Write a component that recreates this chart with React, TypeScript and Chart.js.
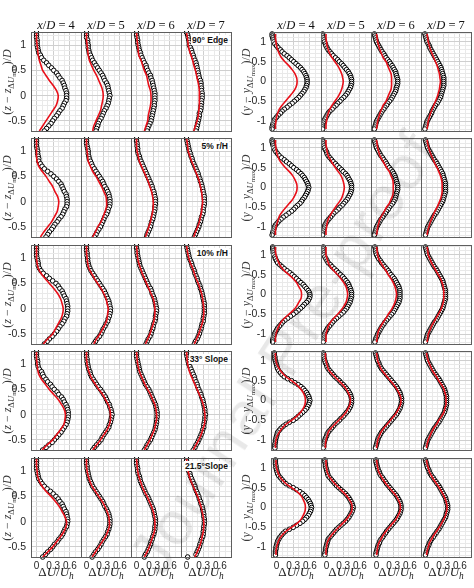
import React, { useEffect, useRef } from "react";
import { Chart, registerables } from "chart.js";
Chart.register(...registerables);

// ---------- axes / labels ----------
const xDValues = ["4", "5", "6", "7"];
const caseLabels = ["90° Edge", "5% r/H", "10% r/H", "33° Slope", "21.5°Slope"];

const X_MIN = -0.1, X_MAX = 0.8;
const xGrid = [0, 0.1, 0.2, 0.3, 0.4, 0.5, 0.6, 0.7];
const xTickVals = [0, 0.3, 0.6];
const xTickText = ["0", "0.3", "0.6"];

const Z_MIN = -0.7, Z_MAX = 1.26;
const zGrid = [-0.6, -0.5, -0.4, -0.3, -0.2, -0.1, 0, 0.1, 0.2, 0.3, 0.4, 0.5, 0.6, 0.7, 0.8, 0.9, 1, 1.1, 1.2];
const zTickVals = [-0.5, 0, 0.5, 1];
const zTickText = ["-0.5", "0", "0.5", "1"];

const Y_MIN = -1.25, Y_MAX = 1.25;
const yGrid = [-1.2, -1.1, -1, -0.9, -0.8, -0.7, -0.6, -0.5, -0.4, -0.3, -0.2, -0.1, 0, 0.1, 0.2, 0.3, 0.4, 0.5, 0.6, 0.7, 0.8, 0.9, 1, 1.1, 1.2];
const yTickVals = [-1, -0.5, 0, 0.5, 1];
const yTickText = ["-1", "-0.5", "0", "0.5", "1"];

// ---------- profile positions ----------
const zMeasPos = [1.25, 1.2, 1.15, 1.1, 1.05, 1, 0.95, 0.9, 0.85, 0.8, 0.75, 0.7, 0.65, 0.6, 0.55, 0.5, 0.45, 0.4, 0.35, 0.3, 0.25, 0.2, 0.15, 0.1, 0.05, 0, -0.05, -0.1, -0.15, -0.2, -0.25, -0.3, -0.35, -0.4, -0.45, -0.5, -0.55, -0.6, -0.65, -0.7];
const zModelPos = [1.25, 1.1, 1, 0.9, 0.8, 0.7, 0.6, 0.5, 0.4, 0.3, 0.2, 0.1, 0, -0.1, -0.2, -0.3, -0.4, -0.5, -0.6, -0.7];
const yMeasPos = [1.2, 1.15, 1.1, 1.05, 1, 0.95, 0.9, 0.85, 0.8, 0.75, 0.7, 0.65, 0.6, 0.55, 0.5, 0.45, 0.4, 0.35, 0.3, 0.25, 0.2, 0.15, 0.1, 0.05, 0, -0.05, -0.1, -0.15, -0.2, -0.25, -0.3, -0.35, -0.4, -0.45, -0.5, -0.55, -0.6, -0.65, -0.7, -0.75, -0.8, -0.85, -0.9, -0.95, -1, -1.05, -1.1, -1.15, -1.2];
const yModelPos = [1.2, 1.1, 1, 0.9, 0.8, 0.7, 0.6, 0.5, 0.4, 0.3, 0.2, 0.1, 0, -0.1, -0.2, -0.3, -0.4, -0.5, -0.6, -0.7, -0.8, -0.9, -1, -1.1, -1.2];

// ---------- vertical (z) profiles: one row per x/D = 4,5,6,7 ----------
const zEdgeExp = [
  [0, 0, 0, 0.01, 0.01, 0.01, 0.02, 0.03, 0.04, 0.07, 0.09, 0.13, 0.18, 0.22, 0.27, 0.31, 0.36, 0.39, 0.42, 0.46, 0.48, 0.50, 0.51, 0.53, 0.54, 0.54, 0.54, 0.53, 0.50, 0.48, 0.46, 0.42, 0.39, 0.36, 0.32, 0.29, 0.26, 0.22, 0.18, 0.14],
  [0, 0, 0, 0.02, 0.02, 0.03, 0.03, 0.04, 0.05, 0.07, 0.09, 0.11, 0.14, 0.17, 0.20, 0.23, 0.26, 0.29, 0.31, 0.33, 0.36, 0.38, 0.39, 0.40, 0.41, 0.42, 0.41, 0.40, 0.39, 0.37, 0.35, 0.32, 0.30, 0.28, 0.26, 0.23, 0.21, 0.20, 0.18, 0.17],
  [0, 0, 0.01, 0.02, 0.02, 0.03, 0.04, 0.05, 0.07, 0.08, 0.10, 0.12, 0.14, 0.17, 0.18, 0.20, 0.22, 0.25, 0.26, 0.28, 0.29, 0.30, 0.31, 0.32, 0.33, 0.33, 0.33, 0.33, 0.32, 0.32, 0.31, 0.30, 0.29, 0.28, 0.27, 0.26, 0.24, 0.22, 0.20, 0.19],
  [0, 0.02, 0.03, 0.04, 0.05, 0.05, 0.07, 0.09, 0.10, 0.12, 0.13, 0.15, 0.17, 0.18, 0.19, 0.20, 0.21, 0.22, 0.23, 0.25, 0.26, 0.26, 0.27, 0.27, 0.28, 0.28, 0.28, 0.27, 0.27, 0.26, 0.26, 0.25, 0.23, 0.23, 0.22, 0.21, 0.20, 0.19, 0.18, 0.17],
];
const zEdgeLes = [
  [0, 0, 0.01, 0.02, 0.03, 0.05, 0.08, 0.11, 0.17, 0.23, 0.30, 0.36, 0.39, 0.38, 0.35, 0.29, 0.23, 0.17, 0.11, 0.05],
  [0, 0, 0.01, 0.02, 0.03, 0.05, 0.09, 0.13, 0.18, 0.22, 0.26, 0.29, 0.30, 0.29, 0.27, 0.25, 0.21, 0.17, 0.13, 0.11],
  [0, 0.01, 0.02, 0.03, 0.04, 0.08, 0.11, 0.14, 0.18, 0.20, 0.22, 0.25, 0.26, 0.26, 0.25, 0.23, 0.21, 0.20, 0.17, 0.14],
  [0, 0.02, 0.03, 0.05, 0.08, 0.11, 0.13, 0.16, 0.18, 0.20, 0.22, 0.23, 0.23, 0.23, 0.23, 0.22, 0.21, 0.19, 0.16, 0.13],
];
const zR5Exp = [
  [0, 0, 0, 0, 0.01, 0.02, 0.02, 0.03, 0.04, 0.04, 0.07, 0.10, 0.14, 0.20, 0.26, 0.31, 0.36, 0.40, 0.44, 0.46, 0.48, 0.50, 0.53, 0.54, 0.55, 0.55, 0.55, 0.54, 0.51, 0.49, 0.47, 0.44, 0.40, 0.37, 0.33, 0.30, 0.27, 0.23, 0.20, 0.17],
  [0, 0, 0, 0.01, 0.02, 0.03, 0.03, 0.04, 0.05, 0.07, 0.09, 0.11, 0.14, 0.17, 0.20, 0.23, 0.26, 0.29, 0.31, 0.33, 0.36, 0.38, 0.40, 0.41, 0.42, 0.42, 0.42, 0.41, 0.39, 0.38, 0.36, 0.33, 0.31, 0.29, 0.27, 0.25, 0.22, 0.19, 0.17, 0.14],
  [0, 0, 0.01, 0.01, 0.02, 0.02, 0.03, 0.05, 0.06, 0.08, 0.10, 0.12, 0.14, 0.16, 0.18, 0.20, 0.22, 0.24, 0.26, 0.28, 0.29, 0.31, 0.32, 0.33, 0.34, 0.34, 0.34, 0.33, 0.33, 0.32, 0.31, 0.30, 0.29, 0.27, 0.26, 0.25, 0.23, 0.21, 0.19, 0.18],
  [0, 0.01, 0.02, 0.03, 0.04, 0.05, 0.07, 0.08, 0.10, 0.11, 0.13, 0.15, 0.17, 0.19, 0.21, 0.22, 0.24, 0.25, 0.27, 0.28, 0.29, 0.30, 0.31, 0.32, 0.32, 0.32, 0.32, 0.31, 0.30, 0.30, 0.29, 0.27, 0.26, 0.25, 0.23, 0.22, 0.20, 0.18, 0.16, 0.14],
];
const zR5Les = [
  [0, 0, 0, 0, 0.01, 0.04, 0.10, 0.17, 0.23, 0.29, 0.33, 0.38, 0.40, 0.39, 0.37, 0.32, 0.27, 0.20, 0.13, 0.07],
  [0, 0, 0.01, 0.02, 0.03, 0.07, 0.11, 0.17, 0.22, 0.27, 0.31, 0.35, 0.36, 0.36, 0.33, 0.30, 0.26, 0.20, 0.16, 0.11],
  [0, 0, 0.01, 0.03, 0.05, 0.09, 0.13, 0.17, 0.21, 0.24, 0.27, 0.29, 0.30, 0.30, 0.29, 0.27, 0.25, 0.22, 0.19, 0.16],
  [0, 0.02, 0.03, 0.06, 0.09, 0.13, 0.16, 0.20, 0.23, 0.25, 0.27, 0.28, 0.29, 0.28, 0.27, 0.25, 0.23, 0.20, 0.16, 0.13],
];
const zR10Exp = [
  [0, 0, 0, 0, 0, 0.01, 0.02, 0.03, 0.03, 0.05, 0.08, 0.12, 0.18, 0.23, 0.29, 0.35, 0.39, 0.42, 0.46, 0.48, 0.50, 0.53, 0.54, 0.55, 0.56, 0.56, 0.56, 0.55, 0.54, 0.51, 0.49, 0.46, 0.42, 0.39, 0.36, 0.32, 0.28, 0.23, 0.19, 0.14],
  [0, 0, 0, 0.01, 0.01, 0.02, 0.02, 0.03, 0.04, 0.06, 0.08, 0.11, 0.14, 0.17, 0.20, 0.23, 0.26, 0.29, 0.32, 0.34, 0.36, 0.38, 0.40, 0.41, 0.42, 0.43, 0.43, 0.42, 0.41, 0.39, 0.38, 0.35, 0.33, 0.30, 0.28, 0.26, 0.23, 0.19, 0.16, 0.13],
  [0, 0, 0.01, 0.01, 0.02, 0.03, 0.04, 0.05, 0.06, 0.08, 0.10, 0.12, 0.14, 0.16, 0.18, 0.20, 0.22, 0.25, 0.27, 0.28, 0.30, 0.32, 0.33, 0.34, 0.35, 0.36, 0.36, 0.35, 0.34, 0.34, 0.33, 0.31, 0.30, 0.29, 0.27, 0.26, 0.24, 0.21, 0.19, 0.17],
  [0, 0.01, 0.02, 0.03, 0.04, 0.05, 0.07, 0.09, 0.10, 0.12, 0.14, 0.15, 0.17, 0.19, 0.20, 0.22, 0.24, 0.25, 0.27, 0.28, 0.29, 0.30, 0.31, 0.32, 0.32, 0.32, 0.32, 0.32, 0.31, 0.30, 0.30, 0.28, 0.27, 0.26, 0.24, 0.23, 0.21, 0.19, 0.16, 0.14],
];
const zR10Les = [
  [0, 0, 0, 0.01, 0.03, 0.08, 0.15, 0.23, 0.31, 0.38, 0.43, 0.46, 0.48, 0.47, 0.44, 0.39, 0.34, 0.29, 0.20, 0.12],
  [0, 0, 0.01, 0.02, 0.04, 0.09, 0.14, 0.20, 0.26, 0.31, 0.35, 0.37, 0.39, 0.38, 0.37, 0.34, 0.29, 0.24, 0.18, 0.13],
  [0, 0.01, 0.02, 0.04, 0.07, 0.10, 0.14, 0.18, 0.22, 0.26, 0.30, 0.32, 0.33, 0.33, 0.32, 0.30, 0.27, 0.24, 0.20, 0.16],
  [0, 0.02, 0.04, 0.07, 0.11, 0.14, 0.17, 0.21, 0.24, 0.27, 0.29, 0.30, 0.31, 0.31, 0.30, 0.28, 0.25, 0.22, 0.18, 0.14],
];
const zS33Exp = [
  [0, 0, 0, 0.01, 0.02, 0.02, 0.03, 0.05, 0.09, 0.11, 0.13, 0.17, 0.20, 0.25, 0.28, 0.32, 0.37, 0.40, 0.45, 0.48, 0.50, 0.53, 0.55, 0.56, 0.57, 0.57, 0.57, 0.56, 0.55, 0.53, 0.50, 0.47, 0.44, 0.40, 0.36, 0.32, 0.28, 0.22, 0.17, 0.11],
  [0, 0, 0, 0.01, 0.01, 0.02, 0.03, 0.04, 0.06, 0.07, 0.09, 0.12, 0.15, 0.18, 0.21, 0.25, 0.28, 0.31, 0.34, 0.36, 0.38, 0.41, 0.42, 0.44, 0.45, 0.46, 0.45, 0.44, 0.43, 0.41, 0.40, 0.37, 0.34, 0.31, 0.28, 0.26, 0.22, 0.18, 0.14, 0.11],
  [0, 0, 0, 0.01, 0.02, 0.03, 0.04, 0.05, 0.06, 0.08, 0.10, 0.12, 0.14, 0.16, 0.19, 0.22, 0.24, 0.26, 0.28, 0.30, 0.32, 0.34, 0.35, 0.36, 0.37, 0.37, 0.37, 0.36, 0.36, 0.35, 0.34, 0.33, 0.31, 0.29, 0.27, 0.25, 0.22, 0.19, 0.17, 0.14],
  [0, 0, 0.01, 0.02, 0.03, 0.04, 0.06, 0.08, 0.10, 0.12, 0.14, 0.15, 0.17, 0.19, 0.20, 0.22, 0.24, 0.26, 0.27, 0.29, 0.30, 0.31, 0.32, 0.33, 0.33, 0.34, 0.33, 0.33, 0.32, 0.31, 0.31, 0.29, 0.28, 0.26, 0.24, 0.22, 0.20, 0.17, 0.15, 0.12],
];
const zS33Les = [
  [0, 0, 0.01, 0.02, 0.04, 0.09, 0.16, 0.23, 0.31, 0.39, 0.45, 0.50, 0.52, 0.51, 0.49, 0.43, 0.36, 0.29, 0.19, 0.10],
  [0, 0, 0.01, 0.03, 0.06, 0.10, 0.16, 0.22, 0.29, 0.34, 0.39, 0.42, 0.43, 0.43, 0.41, 0.37, 0.31, 0.25, 0.18, 0.11],
  [0, 0.01, 0.02, 0.04, 0.07, 0.11, 0.15, 0.20, 0.25, 0.29, 0.33, 0.35, 0.36, 0.36, 0.34, 0.32, 0.28, 0.24, 0.19, 0.14],
  [0, 0.01, 0.02, 0.04, 0.07, 0.11, 0.15, 0.19, 0.23, 0.27, 0.30, 0.32, 0.33, 0.33, 0.32, 0.29, 0.26, 0.22, 0.17, 0.12],
];
const zS21Exp = [
  [0, 0, 0, 0, 0, 0.01, 0.02, 0.03, 0.04, 0.07, 0.10, 0.14, 0.19, 0.25, 0.30, 0.35, 0.39, 0.42, 0.46, 0.48, 0.50, 0.53, 0.54, 0.55, 0.56, 0.56, 0.55, 0.54, 0.51, 0.49, 0.47, 0.44, 0.40, 0.37, 0.32, 0.29, 0.25, 0.20, 0.16, 0.11],
  [0, 0, 0, 0.01, 0.01, 0.02, 0.03, 0.04, 0.05, 0.07, 0.09, 0.11, 0.14, 0.17, 0.20, 0.23, 0.26, 0.29, 0.31, 0.33, 0.36, 0.38, 0.40, 0.41, 0.42, 0.42, 0.42, 0.41, 0.40, 0.38, 0.37, 0.34, 0.31, 0.28, 0.26, 0.23, 0.20, 0.16, 0.13, 0.10],
  [0, 0, 0, 0.01, 0.02, 0.02, 0.03, 0.05, 0.06, 0.07, 0.09, 0.11, 0.13, 0.15, 0.17, 0.20, 0.22, 0.24, 0.26, 0.28, 0.30, 0.31, 0.32, 0.33, 0.34, 0.34, 0.34, 0.33, 0.33, 0.32, 0.31, 0.29, 0.28, 0.26, 0.25, 0.23, 0.21, 0.19, 0.16, 0.14],
  [0, 0, 0.01, 0.02, 0.03, 0.04, 0.06, 0.07, 0.09, 0.11, 0.13, 0.15, 0.16, 0.18, 0.20, 0.22, 0.23, 0.25, 0.26, 0.28, 0.29, 0.30, 0.31, 0.31, 0.32, 0.32, 0.32, 0.31, 0.31, 0.30, 0.30, 0.29, 0.27, 0.26, 0.24, 0.23, 0.21, 0.19, 0.17, 0.02],
];
const zS21Les = [
  [0, 0, 0.01, 0.02, 0.05, 0.10, 0.17, 0.26, 0.34, 0.41, 0.46, 0.51, 0.54, 0.53, 0.49, 0.43, 0.36, 0.29, 0.20, 0.11],
  [0, 0, 0.01, 0.03, 0.06, 0.10, 0.16, 0.22, 0.28, 0.33, 0.37, 0.40, 0.41, 0.41, 0.38, 0.34, 0.28, 0.22, 0.16, 0.10],
  [0, 0.01, 0.02, 0.04, 0.07, 0.10, 0.14, 0.19, 0.23, 0.27, 0.30, 0.32, 0.33, 0.33, 0.32, 0.29, 0.26, 0.23, 0.19, 0.14],
  [0, 0.01, 0.03, 0.05, 0.08, 0.12, 0.16, 0.20, 0.23, 0.26, 0.28, 0.30, 0.31, 0.31, 0.30, 0.28, 0.26, 0.23, 0.19, 0.15],
];

// ---------- lateral (y) profiles: one row per x/D = 4,5,6,7 ----------
const yEdgeExp = [
  [-0.08, -0.08, -0.07, -0.06, -0.05, -0.03, 0.00, 0.03, 0.07, 0.10, 0.14, 0.19, 0.23, 0.27, 0.31, 0.35, 0.39, 0.43, 0.46, 0.49, 0.51, 0.53, 0.54, 0.55, 0.55, 0.55, 0.54, 0.53, 0.51, 0.49, 0.46, 0.43, 0.40, 0.36, 0.32, 0.28, 0.23, 0.19, 0.14, 0.10, 0.07, 0.03, 0.00, -0.03, -0.05, -0.06, -0.07, -0.08, -0.08],
  [-0.07, -0.07, -0.06, -0.05, -0.04, -0.02, -0.01, 0.01, 0.03, 0.06, 0.09, 0.12, 0.16, 0.20, 0.23, 0.27, 0.30, 0.33, 0.36, 0.39, 0.41, 0.43, 0.44, 0.45, 0.45, 0.45, 0.44, 0.43, 0.41, 0.39, 0.37, 0.34, 0.31, 0.27, 0.24, 0.20, 0.17, 0.13, 0.10, 0.06, 0.03, 0.01, -0.01, -0.03, -0.05, -0.06, -0.07, -0.07, -0.07],
  [-0.04, -0.03, -0.02, -0.01, 0.00, 0.02, 0.04, 0.06, 0.08, 0.10, 0.13, 0.15, 0.17, 0.20, 0.23, 0.25, 0.28, 0.30, 0.32, 0.34, 0.35, 0.36, 0.37, 0.38, 0.38, 0.38, 0.37, 0.36, 0.35, 0.34, 0.32, 0.30, 0.28, 0.26, 0.23, 0.20, 0.18, 0.15, 0.13, 0.10, 0.08, 0.06, 0.04, 0.02, 0.00, -0.01, -0.02, -0.03, -0.04],
  [-0.03, -0.02, -0.01, 0.00, 0.01, 0.03, 0.05, 0.06, 0.08, 0.10, 0.12, 0.14, 0.16, 0.18, 0.20, 0.22, 0.24, 0.26, 0.27, 0.28, 0.29, 0.30, 0.31, 0.31, 0.31, 0.31, 0.31, 0.30, 0.29, 0.28, 0.27, 0.26, 0.25, 0.23, 0.21, 0.19, 0.16, 0.14, 0.12, 0.10, 0.09, 0.07, 0.05, 0.03, 0.01, 0.00, -0.01, -0.02, -0.03],
];
const yEdgeLes = [
  [-0.02, -0.02, -0.01, 0.00, 0.02, 0.05, 0.09, 0.15, 0.22, 0.28, 0.33, 0.36, 0.37, 0.36, 0.33, 0.28, 0.22, 0.16, 0.10, 0.05, 0.02, 0.00, -0.01, -0.02, -0.02],
  [-0.01, -0.01, 0.00, 0.01, 0.03, 0.06, 0.10, 0.15, 0.20, 0.24, 0.27, 0.29, 0.30, 0.29, 0.27, 0.24, 0.20, 0.15, 0.10, 0.06, 0.03, 0.01, 0.00, -0.01, -0.01],
  [0.00, 0.01, 0.02, 0.04, 0.06, 0.09, 0.12, 0.17, 0.20, 0.23, 0.26, 0.27, 0.27, 0.27, 0.26, 0.23, 0.20, 0.17, 0.12, 0.09, 0.06, 0.04, 0.02, 0.01, 0.00],
  [0.01, 0.02, 0.03, 0.05, 0.07, 0.10, 0.13, 0.16, 0.19, 0.21, 0.23, 0.24, 0.25, 0.24, 0.23, 0.21, 0.19, 0.16, 0.13, 0.10, 0.07, 0.05, 0.03, 0.02, 0.01],
];
const yR5Exp = [
  [-0.08, -0.08, -0.07, -0.06, -0.05, -0.03, -0.01, 0.02, 0.05, 0.09, 0.14, 0.18, 0.23, 0.27, 0.31, 0.36, 0.40, 0.44, 0.47, 0.50, 0.52, 0.54, 0.56, 0.57, 0.58, 0.57, 0.56, 0.54, 0.52, 0.50, 0.47, 0.45, 0.42, 0.38, 0.34, 0.31, 0.27, 0.22, 0.17, 0.12, 0.08, 0.04, 0.01, -0.02, -0.04, -0.05, -0.06, -0.07, -0.08],
  [-0.07, -0.06, -0.06, -0.05, -0.04, -0.02, 0.00, 0.01, 0.03, 0.06, 0.09, 0.12, 0.16, 0.19, 0.23, 0.27, 0.30, 0.34, 0.37, 0.39, 0.41, 0.43, 0.44, 0.45, 0.45, 0.45, 0.44, 0.43, 0.41, 0.39, 0.37, 0.34, 0.31, 0.28, 0.24, 0.21, 0.17, 0.13, 0.10, 0.07, 0.04, 0.01, -0.01, -0.03, -0.04, -0.05, -0.06, -0.07, -0.07],
  [-0.04, -0.03, -0.02, -0.01, 0.00, 0.02, 0.04, 0.06, 0.08, 0.11, 0.13, 0.16, 0.18, 0.20, 0.23, 0.26, 0.29, 0.31, 0.33, 0.34, 0.35, 0.36, 0.37, 0.38, 0.38, 0.38, 0.37, 0.36, 0.35, 0.34, 0.33, 0.31, 0.29, 0.26, 0.23, 0.21, 0.18, 0.16, 0.13, 0.11, 0.08, 0.06, 0.04, 0.02, 0.00, -0.01, -0.02, -0.03, -0.04],
  [-0.02, -0.01, 0.00, 0.01, 0.02, 0.04, 0.06, 0.08, 0.10, 0.12, 0.14, 0.17, 0.19, 0.21, 0.23, 0.25, 0.27, 0.29, 0.30, 0.31, 0.32, 0.33, 0.34, 0.34, 0.34, 0.34, 0.34, 0.33, 0.32, 0.31, 0.30, 0.29, 0.27, 0.25, 0.23, 0.21, 0.19, 0.17, 0.14, 0.12, 0.10, 0.08, 0.06, 0.04, 0.02, 0.01, 0.00, -0.01, -0.02],
];
const yR5Les = [
  [-0.02, -0.02, -0.01, 0.00, 0.02, 0.05, 0.10, 0.16, 0.23, 0.29, 0.33, 0.36, 0.37, 0.36, 0.33, 0.29, 0.23, 0.17, 0.11, 0.06, 0.03, 0.01, -0.01, -0.02, -0.02],
  [-0.01, -0.01, 0.00, 0.01, 0.03, 0.07, 0.11, 0.16, 0.21, 0.26, 0.29, 0.31, 0.32, 0.31, 0.29, 0.26, 0.21, 0.16, 0.11, 0.07, 0.03, 0.01, 0.00, -0.01, -0.01],
  [0.00, 0.01, 0.02, 0.04, 0.06, 0.10, 0.14, 0.18, 0.23, 0.26, 0.29, 0.30, 0.30, 0.30, 0.29, 0.26, 0.23, 0.18, 0.14, 0.10, 0.06, 0.04, 0.02, 0.01, 0.00],
  [0.01, 0.02, 0.04, 0.06, 0.09, 0.12, 0.15, 0.19, 0.22, 0.25, 0.27, 0.28, 0.28, 0.28, 0.27, 0.25, 0.22, 0.19, 0.15, 0.12, 0.09, 0.06, 0.04, 0.02, 0.01],
];
const yR10Exp = [
  [-0.07, -0.07, -0.06, -0.06, -0.05, -0.03, -0.02, 0.00, 0.02, 0.06, 0.10, 0.14, 0.19, 0.24, 0.28, 0.32, 0.36, 0.40, 0.44, 0.48, 0.51, 0.54, 0.57, 0.59, 0.60, 0.60, 0.59, 0.57, 0.54, 0.50, 0.47, 0.43, 0.39, 0.35, 0.30, 0.25, 0.20, 0.15, 0.11, 0.08, 0.05, 0.02, 0.00, -0.02, -0.04, -0.05, -0.06, -0.07, -0.07],
  [-0.06, -0.06, -0.06, -0.05, -0.05, -0.03, -0.01, 0.01, 0.03, 0.07, 0.10, 0.14, 0.18, 0.21, 0.25, 0.29, 0.32, 0.35, 0.38, 0.40, 0.41, 0.43, 0.44, 0.45, 0.45, 0.45, 0.44, 0.43, 0.42, 0.40, 0.38, 0.36, 0.33, 0.30, 0.26, 0.22, 0.18, 0.14, 0.11, 0.08, 0.05, 0.02, 0.00, -0.02, -0.04, -0.05, -0.05, -0.06, -0.06],
  [-0.03, -0.02, -0.02, -0.01, 0.00, 0.02, 0.04, 0.07, 0.09, 0.12, 0.15, 0.18, 0.21, 0.23, 0.26, 0.29, 0.32, 0.34, 0.36, 0.38, 0.40, 0.41, 0.42, 0.42, 0.42, 0.42, 0.42, 0.41, 0.40, 0.38, 0.36, 0.34, 0.32, 0.30, 0.27, 0.24, 0.21, 0.18, 0.15, 0.13, 0.10, 0.08, 0.06, 0.04, 0.02, 0.01, -0.01, -0.02, -0.03],
  [-0.02, -0.01, 0.00, 0.01, 0.02, 0.04, 0.06, 0.08, 0.10, 0.12, 0.14, 0.17, 0.19, 0.21, 0.23, 0.25, 0.27, 0.29, 0.30, 0.31, 0.32, 0.33, 0.34, 0.34, 0.34, 0.34, 0.34, 0.33, 0.32, 0.31, 0.30, 0.29, 0.27, 0.25, 0.23, 0.21, 0.19, 0.17, 0.14, 0.12, 0.10, 0.08, 0.06, 0.04, 0.02, 0.01, 0.00, -0.01, -0.02],
];
const yR10Les = [
  [-0.02, -0.02, -0.01, 0.01, 0.04, 0.08, 0.14, 0.22, 0.30, 0.36, 0.40, 0.44, 0.45, 0.44, 0.40, 0.36, 0.30, 0.22, 0.14, 0.08, 0.04, 0.01, -0.01, -0.02, -0.02],
  [-0.01, -0.01, -0.01, 0.01, 0.03, 0.07, 0.13, 0.20, 0.26, 0.31, 0.35, 0.37, 0.38, 0.37, 0.35, 0.31, 0.26, 0.20, 0.13, 0.07, 0.03, 0.01, -0.01, -0.01, -0.01],
  [0.00, 0.01, 0.02, 0.04, 0.08, 0.12, 0.17, 0.21, 0.26, 0.30, 0.33, 0.35, 0.36, 0.35, 0.33, 0.30, 0.26, 0.21, 0.17, 0.12, 0.08, 0.04, 0.02, 0.01, 0.00],
  [0.01, 0.02, 0.03, 0.06, 0.09, 0.13, 0.17, 0.21, 0.25, 0.28, 0.30, 0.31, 0.31, 0.31, 0.30, 0.28, 0.25, 0.21, 0.17, 0.13, 0.09, 0.06, 0.03, 0.02, 0.01],
];
const yS33Exp = [
  [-0.04, -0.04, -0.03, -0.03, -0.02, -0.01, 0.00, 0.01, 0.02, 0.04, 0.07, 0.10, 0.14, 0.20, 0.27, 0.33, 0.39, 0.44, 0.48, 0.51, 0.54, 0.56, 0.58, 0.59, 0.60, 0.59, 0.58, 0.56, 0.54, 0.51, 0.47, 0.43, 0.39, 0.35, 0.30, 0.23, 0.17, 0.12, 0.08, 0.05, 0.02, 0.01, 0.00, -0.01, -0.02, -0.02, -0.03, -0.03, -0.03],
  [-0.06, -0.05, -0.05, -0.04, -0.03, -0.02, 0.00, 0.01, 0.03, 0.06, 0.09, 0.12, 0.15, 0.19, 0.23, 0.26, 0.30, 0.33, 0.36, 0.39, 0.41, 0.43, 0.44, 0.45, 0.45, 0.45, 0.44, 0.43, 0.41, 0.39, 0.36, 0.33, 0.30, 0.26, 0.23, 0.19, 0.15, 0.12, 0.09, 0.06, 0.03, 0.01, 0.00, -0.02, -0.03, -0.04, -0.05, -0.05, -0.06],
  [-0.02, -0.01, 0.00, 0.01, 0.02, 0.04, 0.05, 0.07, 0.09, 0.12, 0.15, 0.18, 0.21, 0.24, 0.27, 0.30, 0.33, 0.36, 0.38, 0.40, 0.42, 0.43, 0.44, 0.45, 0.45, 0.45, 0.44, 0.43, 0.42, 0.40, 0.38, 0.36, 0.33, 0.30, 0.27, 0.24, 0.21, 0.18, 0.15, 0.12, 0.09, 0.07, 0.05, 0.03, 0.02, 0.01, 0.00, -0.01, -0.02],
  [-0.02, -0.01, 0.00, 0.01, 0.02, 0.04, 0.06, 0.08, 0.10, 0.12, 0.14, 0.17, 0.19, 0.22, 0.24, 0.26, 0.28, 0.30, 0.32, 0.33, 0.34, 0.35, 0.36, 0.36, 0.36, 0.36, 0.36, 0.35, 0.34, 0.33, 0.32, 0.30, 0.28, 0.26, 0.24, 0.22, 0.19, 0.17, 0.14, 0.12, 0.10, 0.08, 0.06, 0.04, 0.02, 0.01, 0.00, -0.01, -0.02],
];
const yS33Les = [
  [-0.02, -0.02, -0.01, 0.01, 0.05, 0.10, 0.17, 0.27, 0.36, 0.43, 0.48, 0.51, 0.52, 0.51, 0.48, 0.43, 0.36, 0.27, 0.17, 0.10, 0.05, 0.01, -0.01, -0.02, -0.02],
  [-0.02, -0.02, -0.01, 0.01, 0.03, 0.08, 0.15, 0.22, 0.29, 0.35, 0.39, 0.42, 0.43, 0.42, 0.39, 0.35, 0.29, 0.22, 0.15, 0.08, 0.03, 0.01, -0.01, -0.02, -0.02],
  [0.00, 0.01, 0.02, 0.05, 0.08, 0.13, 0.19, 0.25, 0.31, 0.36, 0.40, 0.43, 0.44, 0.43, 0.40, 0.36, 0.31, 0.25, 0.19, 0.13, 0.08, 0.05, 0.02, 0.01, 0.00],
  [0.00, 0.01, 0.03, 0.06, 0.09, 0.13, 0.18, 0.22, 0.27, 0.31, 0.33, 0.35, 0.35, 0.35, 0.33, 0.31, 0.27, 0.22, 0.18, 0.13, 0.09, 0.06, 0.03, 0.01, 0.00],
];
const yS21Exp = [
  [-0.02, -0.02, -0.02, -0.01, -0.01, 0.00, 0.01, 0.02, 0.04, 0.07, 0.10, 0.13, 0.17, 0.23, 0.30, 0.36, 0.42, 0.47, 0.51, 0.54, 0.57, 0.59, 0.61, 0.62, 0.63, 0.62, 0.61, 0.59, 0.57, 0.54, 0.51, 0.47, 0.42, 0.36, 0.30, 0.23, 0.16, 0.12, 0.09, 0.06, 0.04, 0.02, 0.01, 0.00, -0.01, -0.01, -0.02, -0.02, -0.02],
  [-0.03, -0.03, -0.02, -0.02, -0.01, 0.00, 0.01, 0.02, 0.03, 0.06, 0.09, 0.12, 0.15, 0.18, 0.22, 0.26, 0.30, 0.34, 0.37, 0.40, 0.42, 0.44, 0.46, 0.47, 0.48, 0.47, 0.46, 0.44, 0.42, 0.40, 0.37, 0.34, 0.30, 0.26, 0.22, 0.18, 0.15, 0.12, 0.09, 0.06, 0.03, 0.02, 0.01, 0.00, -0.01, -0.02, -0.02, -0.03, -0.03],
  [-0.01, -0.01, 0.00, 0.01, 0.02, 0.03, 0.05, 0.06, 0.08, 0.11, 0.13, 0.16, 0.18, 0.21, 0.24, 0.27, 0.30, 0.33, 0.36, 0.38, 0.40, 0.42, 0.43, 0.44, 0.44, 0.44, 0.43, 0.42, 0.40, 0.38, 0.36, 0.33, 0.30, 0.27, 0.24, 0.21, 0.18, 0.16, 0.13, 0.11, 0.08, 0.06, 0.05, 0.03, 0.02, 0.01, 0.00, -0.01, -0.01],
  [-0.02, -0.01, 0.00, 0.01, 0.02, 0.04, 0.05, 0.07, 0.09, 0.12, 0.14, 0.17, 0.19, 0.22, 0.24, 0.26, 0.28, 0.30, 0.32, 0.34, 0.35, 0.36, 0.37, 0.38, 0.38, 0.38, 0.37, 0.36, 0.35, 0.34, 0.32, 0.30, 0.28, 0.26, 0.24, 0.22, 0.19, 0.17, 0.14, 0.12, 0.09, 0.07, 0.05, 0.04, 0.02, 0.01, 0.00, -0.01, -0.02],
];
const yS21Les = [
  [-0.01, -0.01, 0.00, 0.02, 0.05, 0.10, 0.17, 0.27, 0.37, 0.44, 0.48, 0.51, 0.52, 0.51, 0.48, 0.44, 0.37, 0.27, 0.17, 0.10, 0.05, 0.02, 0.00, -0.01, -0.01],
  [-0.01, -0.01, 0.00, 0.01, 0.04, 0.09, 0.15, 0.22, 0.29, 0.36, 0.41, 0.45, 0.46, 0.45, 0.41, 0.36, 0.29, 0.22, 0.15, 0.09, 0.04, 0.01, 0.00, -0.01, -0.01],
  [0.00, 0.01, 0.02, 0.04, 0.08, 0.12, 0.17, 0.23, 0.29, 0.35, 0.39, 0.42, 0.43, 0.42, 0.39, 0.35, 0.29, 0.23, 0.17, 0.12, 0.08, 0.04, 0.02, 0.01, 0.00],
  [0.00, 0.01, 0.03, 0.05, 0.09, 0.13, 0.18, 0.23, 0.27, 0.31, 0.34, 0.36, 0.37, 0.36, 0.34, 0.31, 0.27, 0.23, 0.18, 0.13, 0.09, 0.05, 0.03, 0.01, 0.00],
];

const zExpByCase = [zEdgeExp, zR5Exp, zR10Exp, zS33Exp, zS21Exp];
const zLesByCase = [zEdgeLes, zR5Les, zR10Les, zS33Les, zS21Les];
const yExpByCase = [yEdgeExp, yR5Exp, yR10Exp, yS33Exp, yS21Exp];
const yLesByCase = [yEdgeLes, yR5Les, yR10Les, yS33Les, yS21Les];

// ---------- layout ----------
const LEFT_X = [31, 81, 131, 181];
const RIGHT_X = [271, 321, 371, 421];
const ROW_Y = [32, 138, 245, 351, 458];
const PW = 50;
const PH = 99;
const RED = "#e8101a";
const Y_TICK_FONT = { family: "'Liberation Sans', Arial, sans-serif", size: 10.5 };
const X_TICK_FONT = { family: "'Liberation Sans', Arial, sans-serif", size: 10 };
const TICK_COLOR = "#262626";

const boxPlugin = {
  id: "panelBox",
  afterDatasetsDraw(chart: any) {
    const { ctx, chartArea: a } = chart;
    ctx.save();
    ctx.strokeStyle = "#5e5e5e";
    ctx.lineWidth = 1;
    ctx.strokeRect(a.left + 0.5, a.top + 0.5, a.right - a.left, a.bottom - a.top);
    ctx.restore();
  },
};

function labelFor(v: number, vals: number[], texts: string[]) {
  const i = vals.findIndex((t) => Math.abs(t - v) < 1e-6);
  return i >= 0 ? texts[i] : "";
}

function zeroPad(s: any) {
  s.paddingTop = 0;
  s.paddingBottom = 0;
  s.paddingLeft = 0;
  s.paddingRight = 0;
}

function Panel(p: any) {
  const ref = useRef<HTMLCanvasElement | null>(null);
  const yW = p.showY ? 27 : 0;
  const xH = p.showX ? 18 : 0;
  const cw = yW + PW + 1;
  const ch = PH + 2 + xH;
  useEffect(() => {
    const gridColor = (vals: number[], lo: number, hi: number) => (c: any) => {
      const v = c.tick ? c.tick.value : 0;
      if (Math.abs(v - lo) < 1e-6 || Math.abs(v - hi) < 1e-6) return "rgba(0,0,0,0)";
      return vals.some((t) => Math.abs(t - v) < 1e-6) ? "#cfcfcf" : "#e9e9e9";
    };
    const chart = new Chart(ref.current as HTMLCanvasElement, {
      type: "scatter",
      data: {
        datasets: [
          {
            label: "Model",
            data: p.model.map((x: number, i: number) => ({ x, y: p.modelPos[i] })),
            showLine: true,
            borderColor: RED,
            backgroundColor: RED,
            borderWidth: 1.6,
            pointRadius: 0,
            tension: 0.3,
            order: 0,
            clip: false,
          },
          {
            label: "Measured",
            data: p.meas.map((x: number, i: number) => ({ x, y: p.measPos[i] })),
            showLine: false,
            pointRadius: 2.3,
            pointBorderWidth: 1,
            pointBorderColor: "#000",
            pointBackgroundColor: "#fff",
            order: 1,
            clip: false,
          },
        ],
      } as any,
      options: {
        animation: false,
        responsive: false,
        devicePixelRatio: 1,
        events: [],
        layout: { autoPadding: false, padding: { top: 1, right: 1, left: 0, bottom: 1 } },
        plugins: { legend: { display: false }, tooltip: { enabled: false } },
        scales: {
          x: {
            type: "linear",
            min: X_MIN,
            max: X_MAX,
            afterBuildTicks: (s: any) => {
              s.ticks = [X_MIN, ...xGrid, X_MAX].map((v) => ({ value: v }));
            },
            afterFit: (s: any) => {
              s.height = xH;
              zeroPad(s);
            },
            ticks: {
              display: p.showX,
              autoSkip: false,
              maxRotation: 0,
              padding: 3,
              color: TICK_COLOR,
              font: X_TICK_FONT,
              callback: (v: any, i: number, arr: any[]) =>
                i === 0 || i === arr.length - 1 ? null : labelFor(Number(v), xTickVals, xTickText),
            },
            grid: { drawTicks: false, color: gridColor(xTickVals, X_MIN, X_MAX), lineWidth: 1 },
            border: { display: false },
          },
          y: {
            type: "linear",
            min: p.yMin,
            max: p.yMax,
            afterBuildTicks: (s: any) => {
              s.ticks = [p.yMin, ...p.yGrid, p.yMax].map((v: number) => ({ value: v }));
            },
            afterFit: (s: any) => {
              s.width = yW;
              zeroPad(s);
            },
            ticks: {
              display: p.showY,
              autoSkip: false,
              padding: 5,
              color: TICK_COLOR,
              font: Y_TICK_FONT,
              callback: (v: any, i: number, arr: any[]) =>
                i === 0 || i === arr.length - 1 ? null : labelFor(Number(v), p.yTickVals, p.yTickText),
            },
            grid: { drawTicks: false, color: gridColor(p.yTickVals, p.yMin, p.yMax), lineWidth: 1 },
            border: { display: false },
          },
        },
      } as any,
      plugins: [boxPlugin],
    });
    return () => chart.destroy();
  }, []);
  return (
    <canvas
      ref={ref}
      width={cw}
      height={ch}
      style={{ position: "absolute", left: p.left - yW, top: p.top - 1, width: cw, height: ch }}
    />
  );
}

const subA = { fontSize: "0.72em", verticalAlign: "-0.32em", lineHeight: 1 };
const subB = { fontSize: "0.78em", verticalAlign: "-0.28em", lineHeight: 1 };

function PosLabel({ v }: { v: string }) {
  return (
    <span>
      (<i>{v}</i> − <i>{v}</i>
      <sub style={subA}>
        Δ<i>U</i>
        <sub style={subB}>max</sub>
      </sub>
      )/<i>D</i>
    </span>
  );
}

export default function App() {
  const items: any[] = [];
  for (let r = 0; r < 5; r++) {
    for (let c = 0; c < 4; c++) {
      items.push(
        <Panel
          key={`z${r}${c}`}
          left={LEFT_X[c]}
          top={ROW_Y[r]}
          showY={c === 0}
          showX={r === 4}
          yMin={Z_MIN}
          yMax={Z_MAX}
          yGrid={zGrid}
          yTickVals={zTickVals}
          yTickText={zTickText}
          measPos={zMeasPos}
          meas={zExpByCase[r][c]}
          modelPos={zModelPos}
          model={zLesByCase[r][c]}
        />
      );
      items.push(
        <Panel
          key={`y${r}${c}`}
          left={RIGHT_X[c]}
          top={ROW_Y[r]}
          showY={c === 0}
          showX={r === 4}
          yMin={Y_MIN}
          yMax={Y_MAX}
          yGrid={yGrid}
          yTickVals={yTickVals}
          yTickText={yTickText}
          measPos={yMeasPos}
          meas={yExpByCase[r][c]}
          modelPos={yModelPos}
          model={yLesByCase[r][c]}
        />
      );
    }
  }

  const serif = "'Liberation Serif', 'DejaVu Serif', serif";
  const abs = (x: number, y: number, extra: any = {}) => ({
    position: "absolute" as const,
    left: x,
    top: y,
    transform: "translate(-50%,-50%)",
    whiteSpace: "nowrap" as const,
    lineHeight: 1,
    ...extra,
  });

  const texts: any[] = [];
  [LEFT_X, RIGHT_X].forEach((xs, g) =>
    xs.forEach((x, c) => {
      texts.push(
        <div key={`h${g}${c}`} style={abs(x + PW / 2, 25, { font: `12.5px ${serif}`, color: "#111" })}>
          <i>x</i>/<i>D</i> = {xDValues[c]}
        </div>
      );
      texts.push(
        <div key={`xl${g}${c}`} style={abs(x + PW / 2, 573, { font: `13px ${serif}`, color: "#222" })}>
          Δ<i>U</i>/<i>U</i>
          <sub style={subA}>
            <i>h</i>
          </sub>
        </div>
      );
    })
  );
  ROW_Y.forEach((y, r) => {
    texts.push(
      <div
        key={`zl${r}`}
        style={abs(9, y + PH / 2, { font: `12px ${serif}`, color: "#3a3a3a", transform: "translate(-50%,-50%) rotate(-90deg)" })}
      >
        <PosLabel v="z" />
      </div>
    );
    texts.push(
      <div
        key={`yl${r}`}
        style={abs(248, y + PH / 2, { font: `12px ${serif}`, color: "#3a3a3a", transform: "translate(-50%,-50%) rotate(-90deg)" })}
      >
        <PosLabel v="y" />
      </div>
    );
    texts.push(
      <div
        key={`case${r}`}
        style={{
          position: "absolute",
          right: 474 - (LEFT_X[3] + PW - 2),
          top: y + 3,
          font: "600 8.5px 'Liberation Sans', Arial, sans-serif",
          color: "#111",
          background: "#fff",
          padding: "0 1px",
          lineHeight: "10px",
          whiteSpace: "nowrap",
        }}
      >
        {caseLabels[r]}
      </div>
    );
  });

  return (
    <div style={{ position: "absolute", left: 0, top: 0, width: 474, height: 588, background: "#fff", overflow: "hidden" }}>
      {items}
      {texts}
      <div
        style={{
          position: "absolute",
          left: 283,
          top: 352,
          transform: "translate(-50%,-50%) rotate(-57deg)",
          font: "62px 'Liberation Sans', Arial, sans-serif",
          letterSpacing: "2px",
          color: "rgba(0,0,0,0.09)",
          whiteSpace: "nowrap",
          pointerEvents: "none",
        }}
      >
        Journal Pre-proof
      </div>
    </div>
  );
}
